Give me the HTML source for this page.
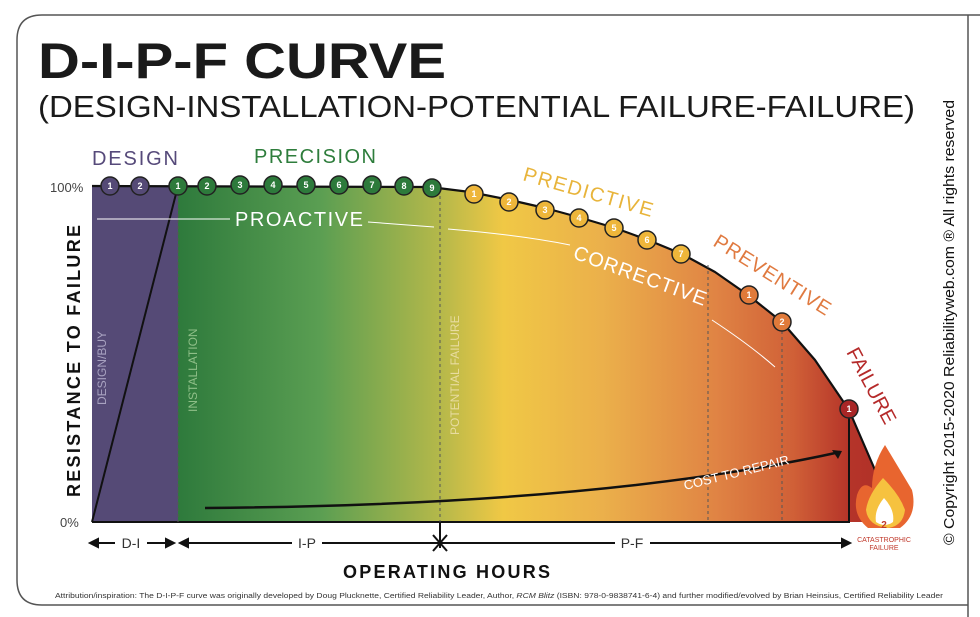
<!DOCTYPE html>
<html><head><meta charset="utf-8"><style>
html,body{margin:0;padding:0;background:#fff;}
svg{display:block;font-family:"Liberation Sans",sans-serif;}
</style></head><body>
<svg width="980" height="617" viewBox="0 0 980 617" xmlns="http://www.w3.org/2000/svg">
<defs>
<linearGradient id="g" x1="178" y1="0" x2="885" y2="0" gradientUnits="userSpaceOnUse">
<stop offset="0" stop-color="#2e7a3c"/>
<stop offset="0.2" stop-color="#5a9e52"/>
<stop offset="0.37" stop-color="#b4b84a"/>
<stop offset="0.46" stop-color="#f0c845"/>
<stop offset="0.6" stop-color="#ebb04b"/>
<stop offset="0.76" stop-color="#e08444"/>
<stop offset="0.87" stop-color="#d06037"/>
<stop offset="0.95" stop-color="#b53429"/>
<stop offset="1" stop-color="#b03028"/>
</linearGradient>
</defs>
<path d="M17,40 Q17,15 42,15 L980,15 M17,40 L17,580 Q17,605 42,605 L968,605" fill="none" stroke="#555" stroke-width="1.5"/>
<line x1="968" y1="15" x2="968" y2="617" stroke="#555" stroke-width="1.5"/>
<text x="38" y="78" font-size="50" font-weight="bold" fill="#1a1a1a" textLength="408" lengthAdjust="spacingAndGlyphs">D-I-P-F  CURVE</text>
<text x="38" y="117" font-size="31" fill="#1a1a1a" textLength="877" lengthAdjust="spacingAndGlyphs">(DESIGN-INSTALLATION-POTENTIAL FAILURE-FAILURE)</text>
<text x="92" y="165" font-size="20" fill="#564a7a" textLength="86">DESIGN</text>
<text x="254" y="163" font-size="20" fill="#2e7d3c" textLength="122">PRECISION</text>
<rect x="92" y="186" width="86" height="336" fill="#554a76"/>
<path d="M178,186 L430,187 L470,192 L510,200 L545,208 L578,217 L615,228 L648,240 L682,254 L715,272 L748,295 L782,322 L815,360 L849,410 L875,470 L888,522 L178,522 Z" fill="url(#g)"/>
<path d="M92,186 L430,187 L470,192 L510,200 L545,208 L578,217 L615,228 L648,240 L682,254 L715,272 L748,295 L782,322 L815,360 L849,410 L875,470" fill="none" stroke="#111" stroke-width="2.2" stroke-linejoin="round"/>
<line x1="92" y1="522" x2="178" y2="186" stroke="#111" stroke-width="2"/>
<line x1="849" y1="410" x2="849" y2="522" stroke="#111" stroke-width="2"/>
<line x1="92" y1="522" x2="850" y2="522" stroke="#111" stroke-width="2"/>
<g stroke="#555" stroke-width="1" stroke-dasharray="3,3">
<line x1="178" y1="190" x2="178" y2="522"/><line x1="440" y1="190" x2="440" y2="522"/>
<line x1="708" y1="265" x2="708" y2="522"/><line x1="782" y1="325" x2="782" y2="522"/></g>
<text x="50" y="192" font-size="13" fill="#444">100%</text>
<text x="60" y="527" font-size="13" fill="#444">0%</text>
<text transform="translate(80,497) rotate(-90)" font-size="18" font-weight="bold" fill="#111" textLength="272">RESISTANCE TO FAILURE</text>
<g font-size="12" fill="#a8a2c0"><text transform="translate(106,405) rotate(-90)">DESIGN/BUY</text></g>
<g font-size="12" fill="#8fbf88"><text transform="translate(197,412) rotate(-90)">INSTALLATION</text></g>
<g font-size="12" fill="#e8dca0"><text transform="translate(459,435) rotate(-90)">POTENTIAL FAILURE</text></g>
<line x1="97" y1="219" x2="230" y2="219" stroke="#fff" stroke-width="1"/>
<text x="235" y="226" font-size="20" fill="#fff" textLength="128">PROACTIVE</text>
<path d="M368,222 L434,227" stroke="#fff" fill="none"/>
<path d="M448,229 Q520,235 570,245" stroke="#fff" fill="none"/>
<text transform="translate(572,258) rotate(20)" font-size="20" fill="#fff" textLength="140">CORRECTIVE</text>
<path d="M712,320 Q750,345 775,367" stroke="#fff" fill="none"/>
<text transform="translate(522,180) rotate(16)" font-size="20" fill="#e8b43a" textLength="134">PREDICTIVE</text>
<text transform="translate(712,245) rotate(32)" font-size="20" fill="#e07a40" textLength="134">PREVENTIVE</text>
<text transform="translate(846,352) rotate(62)" font-size="20" fill="#b52a2a">FAILURE</text>
<path d="M205,508 Q600,505 840,452" stroke="#111" stroke-width="2.5" fill="none"/>
<path d="M842,451 L832,450 L838,459 Z" fill="#111"/>
<text transform="translate(685,490) rotate(-14)" font-size="13" fill="#fff">COST TO REPAIR</text>
<g font-size="9" font-weight="bold" fill="#fff" text-anchor="middle" stroke-width="1.5">
<g stroke="#222"><circle cx="110" cy="186" r="9" fill="#554a76"/><circle cx="140" cy="186" r="9" fill="#554a76"/>
<circle cx="178" cy="186" r="9" fill="#2d7a3b"/><circle cx="207" cy="186" r="9" fill="#2d7a3b"/><circle cx="240" cy="185" r="9" fill="#2d7a3b"/><circle cx="273" cy="185" r="9" fill="#2d7a3b"/><circle cx="306" cy="185" r="9" fill="#2d7a3b"/><circle cx="339" cy="185" r="9" fill="#2d7a3b"/><circle cx="372" cy="185" r="9" fill="#2d7a3b"/><circle cx="404" cy="186" r="9" fill="#2d7a3b"/><circle cx="432" cy="188" r="9" fill="#2d7a3b"/>
<circle cx="474" cy="194" r="9" fill="#eeb63a"/><circle cx="509" cy="202" r="9" fill="#eeb63a"/><circle cx="545" cy="210" r="9" fill="#eeb63a"/><circle cx="579" cy="218" r="9" fill="#eeb63a"/><circle cx="614" cy="228" r="9" fill="#eeb63a"/><circle cx="647" cy="240" r="9" fill="#eeb63a"/><circle cx="681" cy="254" r="9" fill="#eeb63a"/>
<circle cx="749" cy="295" r="9" fill="#e07a3a"/><circle cx="782" cy="322" r="9" fill="#e07a3a"/>
<circle cx="849" cy="409" r="9" fill="#a82626"/></g>
<text x="110" y="189">1</text><text x="140" y="189">2</text>
<text x="178" y="189">1</text><text x="207" y="189">2</text><text x="240" y="188">3</text><text x="273" y="188">4</text><text x="306" y="188">5</text><text x="339" y="188">6</text><text x="372" y="188">7</text><text x="404" y="189">8</text><text x="432" y="191">9</text>
<text x="474" y="197">1</text><text x="509" y="205">2</text><text x="545" y="213">3</text><text x="579" y="221">4</text><text x="614" y="231">5</text><text x="647" y="243">6</text><text x="681" y="257">7</text>
<text x="749" y="298">1</text><text x="782" y="325">2</text><text x="849" y="412">1</text></g>
<path d="M885,445 Q900,470 912,490 Q918,515 900,528 L868,528 Q852,515 857,495 Q862,480 872,488 Q872,465 885,445 Z" fill="#e8652f"/>
<path d="M883,478 Q900,495 905,510 Q903,526 888,528 Q868,526 866,510 Q868,495 883,478 Z" fill="#f6c23f"/>
<path d="M884,498 Q895,510 893,522 Q885,528 876,522 Q874,510 884,498 Z" fill="#fff"/>
<text x="884" y="528" font-size="10" font-weight="bold" fill="#c0392b" text-anchor="middle">2</text>
<text x="884" y="542" font-size="7" fill="#c0392b" text-anchor="middle">CATASTROPHIC</text>
<text x="884" y="550" font-size="7" fill="#c0392b" text-anchor="middle">FAILURE</text>
<g stroke="#111" stroke-width="2" fill="#111">
<line x1="92" y1="543" x2="115" y2="543"/><path d="M90,543 L98,539 L98,547Z"/>
<line x1="147" y1="543" x2="170" y2="543"/><path d="M174,543 L166,539 L166,547Z"/>
<line x1="182" y1="543" x2="292" y2="543"/><path d="M180,543 L188,539 L188,547Z"/>
<line x1="322" y1="543" x2="615" y2="543"/>
<line x1="650" y1="543" x2="846" y2="543"/><path d="M850,543 L842,539 L842,547Z"/>
<line x1="440" y1="522" x2="440" y2="548"/><line x1="433" y1="535" x2="447" y2="551"/><line x1="447" y1="535" x2="433" y2="551"/></g>
<g font-size="14" fill="#333" text-anchor="middle"><text x="131" y="548">D-I</text><text x="307" y="548">I-P</text><text x="632" y="548">P-F</text></g>
<text x="343" y="578" font-size="18" font-weight="bold" fill="#111" textLength="207">OPERATING HOURS</text>
<text x="55" y="598" font-size="7" fill="#333" textLength="888" lengthAdjust="spacingAndGlyphs">Attribution/inspiration: The D-I-P-F curve was originally developed by Doug Plucknette, Certified Reliability Leader, Author, <tspan font-style="italic">RCM Blitz</tspan> (ISBN: 978-0-9838741-6-4) and further modified/evolved by Brian Heinsius, Certified Reliability Leader</text>
<text transform="translate(954,545) rotate(-90)" font-size="15" fill="#111" textLength="445" lengthAdjust="spacingAndGlyphs">© Copyright 2015-2020 Reliabilityweb.com ® All rights reserved</text>
</svg>
</body></html>
